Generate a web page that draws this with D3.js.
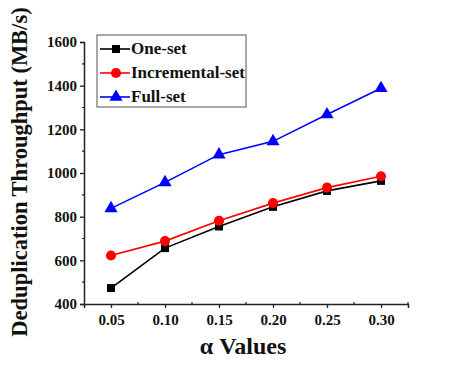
<!DOCTYPE html>
<html><head><meta charset="utf-8">
<script src="https://cdn.jsdelivr.net/npm/d3@7"></script>
<style>body{margin:0;background:#fff}svg{display:block}</style>
</head><body>
<script>
const alphas = [0.05, 0.10, 0.15, 0.20, 0.25, 0.30];
const oneSet = [473, 656, 755, 845, 918, 964];
const incrementalSet = [622, 688, 781, 862, 933, 985];
const fullSet = [838, 957, 1084, 1145, 1268, 1388];
const yTicks = [400, 600, 800, 1000, 1200, 1400, 1600];
const xTickLabels = ["0.05", "0.10", "0.15", "0.20", "0.25", "0.30"];
const seriesNames = ["One-set", "Incremental-set", "Full-set"];
const seriesColors = ["#000000", "#ff0000", "#0000ff"];
const seriesShapes = [d3.symbolSquare, d3.symbolCircle, d3.symbolTriangle];
const seriesData = [oneSet, incrementalSet, fullSet];

const FONT = "'Liberation Serif', 'Times New Roman', serif";
function styleText(sel, size) {
  return sel.style("font-family", FONT).style("font-weight", "bold")
    .style("font-size", size + "px").style("fill", "#111");
}

const W = 474, H = 366;
const svg = d3.select("body").append("svg").attr("width", W).attr("height", H);
const x = d3.scaleLinear().domain([0.025, 0.325]).range([84, 408]);
const y = d3.scaleLinear().domain([400, 1600]).range([304, 42]);

// axes
const xAxis = d3.axisBottom(x).tickValues(alphas).tickSize(4).tickPadding(6)
  .tickFormat((d, i) => xTickLabels[i]);
const gx = svg.append("g").attr("transform", "translate(0,304)").call(xAxis);
gx.attr("font-family", FONT);
gx.select(".domain").attr("stroke", "#222").attr("stroke-width", 1.5);
gx.selectAll(".tick line").attr("stroke", "#222").attr("stroke-width", 1.3);
styleText(gx.selectAll("text"), 15);
svg.append("g").selectAll("line").data([0.075, 0.125, 0.175, 0.225, 0.275, 0.325]).join("line")
  .attr("x1", d => x(d)).attr("x2", d => x(d)).attr("y1", 304).attr("y2", 302)
  .attr("stroke", "#222").attr("stroke-width", 1.2);

const yAxis = d3.axisLeft(y).tickValues(yTicks).tickSize(4).tickPadding(3).tickFormat(d3.format("d"));
const gy = svg.append("g").attr("transform", "translate(84,0)").call(yAxis);
gy.attr("font-family", FONT);
gy.select(".domain").attr("stroke", "#222").attr("stroke-width", 1.5);
gy.selectAll(".tick line").attr("stroke", "#222").attr("stroke-width", 1.3);
styleText(gy.selectAll("text"), 15);
svg.append("g").selectAll("line").data([500, 700, 900, 1100, 1300, 1500]).join("line")
  .attr("x1", 84).attr("x2", 82).attr("y1", d => y(d)).attr("y2", d => y(d))
  .attr("stroke", "#222").attr("stroke-width", 1.2);

// titles
styleText(svg.append("text").attr("x", 243).attr("y", 354).attr("text-anchor", "middle"), 24)
  .text("α Values");
styleText(svg.append("text").attr("transform", "translate(27,172) rotate(-90)").attr("text-anchor", "middle"), 22.5)
  .text("Deduplication Throughput (MB/s)");

// series
const line = d3.line().x((d, i) => x(alphas[i])).y(d => y(d));
seriesData.forEach((data, s) => {
  svg.append("path").datum(data).attr("d", line).attr("fill", "none")
    .attr("stroke", seriesColors[s]).attr("stroke-width", 1.6);
  const sz = s === 2 ? 75 : (s === 0 ? 64 : 80);
  svg.append("g").selectAll("path").data(data).join("path")
    .attr("transform", (d, i) => `translate(${x(alphas[i])},${y(d)})`)
    .attr("d", d3.symbol().type(seriesShapes[s]).size(sz))
    .attr("fill", seriesColors[s]);
});

// legend
const lg = svg.append("g");
lg.append("rect").attr("x", 97).attr("y", 35).attr("width", 149).attr("height", 72)
  .attr("fill", "#fff").attr("stroke", "#555").attr("stroke-width", 1);
seriesNames.forEach((name, s) => {
  const ly = 49 + s * 24;
  lg.append("line").attr("x1", 100).attr("x2", 130).attr("y1", ly).attr("y2", ly)
    .attr("stroke", seriesColors[s]).attr("stroke-width", 1.6);
  const sz = s === 2 ? 75 : (s === 0 ? 64 : 80);
  lg.append("path").attr("transform", `translate(116,${ly})`)
    .attr("d", d3.symbol().type(seriesShapes[s]).size(sz)).attr("fill", seriesColors[s]);
  styleText(lg.append("text").attr("x", 131).attr("y", ly + 5), 17).text(name);
});
</script>
</body></html>
